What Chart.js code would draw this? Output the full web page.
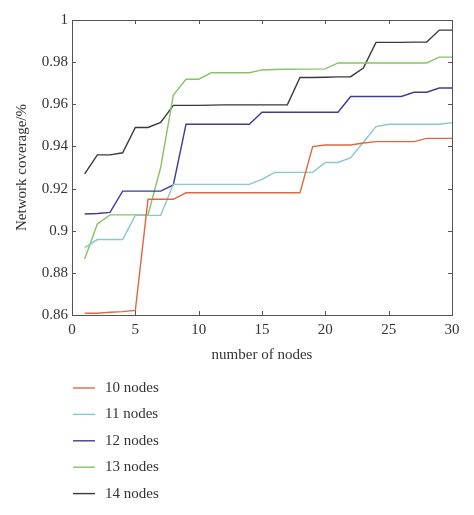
<!DOCTYPE html>
<html>
<head>
<meta charset="utf-8">
<script src="https://cdn.jsdelivr.net/npm/chart.js@4"></script>
<style>
  html, body { margin: 0; padding: 0; background: #fff; }
  #wrap { width: 474px; height: 515px; }
</style>
</head>
<body>
<div id="wrap"><canvas id="coverageChart" width="474" height="515"></canvas></div>
<script>
// number of nodes on the x axis
const nodeCounts = [1, 2, 3, 4, 5, 6, 7, 8, 9, 10, 11, 12, 13, 14, 15, 16, 17, 18, 19, 20, 21, 22, 23, 24, 25, 26, 27, 28, 29, 30];

// coverage values
const nodes10 = [0.8608, 0.8608, 0.8613, 0.8616, 0.8622, 0.9149, 0.9149, 0.9149, 0.918, 0.918, 0.918, 0.918, 0.918, 0.918, 0.918, 0.918, 0.918, 0.918, 0.9399, 0.9407, 0.9407, 0.9407, 0.9416, 0.9423, 0.9423, 0.9423, 0.9423, 0.9438, 0.9438, 0.9438];
const nodes11 = [0.892, 0.8958, 0.8958, 0.8958, 0.9073, 0.9073, 0.9073, 0.922, 0.922, 0.922, 0.922, 0.922, 0.922, 0.922, 0.9244, 0.9277, 0.9277, 0.9277, 0.9277, 0.9324, 0.9324, 0.9347, 0.942, 0.9494, 0.9505, 0.9505, 0.9505, 0.9505, 0.9505, 0.9513];
const nodes12 = [0.9079, 0.9082, 0.9087, 0.9188, 0.9188, 0.9188, 0.9188, 0.9217, 0.9505, 0.9505, 0.9505, 0.9505, 0.9505, 0.9505, 0.9562, 0.9562, 0.9562, 0.9562, 0.9562, 0.9562, 0.9562, 0.9637, 0.9637, 0.9637, 0.9637, 0.9637, 0.9657, 0.9657, 0.9677, 0.9677];
const nodes13 = [0.8866, 0.9032, 0.9075, 0.9075, 0.9075, 0.9075, 0.930, 0.9644, 0.9719, 0.9719, 0.975, 0.975, 0.975, 0.975, 0.9763, 0.9765, 0.9766, 0.9767, 0.9767, 0.9768, 0.9796, 0.9796, 0.9796, 0.9796, 0.9796, 0.9796, 0.9796, 0.9796, 0.9824, 0.9824];
const nodes14 = [0.927, 0.936, 0.936, 0.937, 0.949, 0.949, 0.9514, 0.9595, 0.9595, 0.9595, 0.9596, 0.9597, 0.9597, 0.9597, 0.9597, 0.9597, 0.9597, 0.9727, 0.9727, 0.9728, 0.973, 0.9731, 0.9772, 0.9894, 0.9894, 0.9894, 0.9895, 0.9895, 0.9952, 0.9952];

const seriesNames = ['10 nodes', '11 nodes', '12 nodes', '13 nodes', '14 nodes'];
const seriesColors = ['#e2673f', '#86c9c8', '#3d3d98', '#86c266', '#3a3a3a'];
const seriesValues = [nodes10, nodes11, nodes12, nodes13, nodes14];

const FONT = '"Liberation Serif", "DejaVu Serif", serif';
const INK = '#333333';

// build datasets from the arrays
const datasets = seriesValues.map((vals, i) => ({
    label: seriesNames[i],
    data: vals.map((v, j) => ({ x: nodeCounts[j], y: v })),
    borderColor: seriesColors[i],
    borderWidth: 1.4,
    pointRadius: 0,
    tension: 0,
    fill: false
}));

// box around plot, inward ticks on all four sides, and the stacked legend below
const frameAndLegend = {
    id: 'frameAndLegend',
    afterDraw(chart) {
        const ctx = chart.ctx;
        const a = chart.chartArea;
        const xs = chart.scales.x;
        const ys = chart.scales.y;
        const tick = 4;
        ctx.save();
        ctx.strokeStyle = '#555';
        ctx.lineWidth = 1;
        ctx.strokeRect(a.left + 0.5, a.top + 0.5, a.right - a.left, a.bottom - a.top);
        ctx.beginPath();
        xs.ticks.forEach(t => {
            const px = Math.round(xs.getPixelForValue(t.value)) + 0.5;
            ctx.moveTo(px, a.bottom); ctx.lineTo(px, a.bottom - tick);
            ctx.moveTo(px, a.top); ctx.lineTo(px, a.top + tick);
        });
        ys.ticks.forEach(t => {
            const py = Math.round(ys.getPixelForValue(t.value)) + 0.5;
            ctx.moveTo(a.left, py); ctx.lineTo(a.left + tick, py);
            ctx.moveTo(a.right, py); ctx.lineTo(a.right - tick, py);
        });
        ctx.stroke();

        // legend
        ctx.font = '15px ' + FONT;
        ctx.textBaseline = 'middle';
        ctx.textAlign = 'left';
        chart.data.datasets.forEach((ds, i) => {
            const y = 388 + i * 26.4;
            ctx.strokeStyle = ds.borderColor;
            ctx.lineWidth = 1.4;
            ctx.beginPath();
            ctx.moveTo(73, y);
            ctx.lineTo(95, y);
            ctx.stroke();
            ctx.fillStyle = INK;
            ctx.fillText(ds.label, 105, y);
        });
        ctx.restore();
    }
};

const coverageChart = new Chart(document.getElementById('coverageChart').getContext('2d'), {
    type: 'line',
    data: { datasets: datasets },
    options: {
        responsive: false,
        animation: false,
        layout: { padding: { top: 20, right: 22, bottom: 147, left: 0 } },
        plugins: {
            legend: { display: false },
            tooltip: { enabled: false }
        },
        scales: {
            x: {
                type: 'linear',
                min: 0,
                max: 30,
                afterFit(scale) { scale.height = 53; },
                ticks: { stepSize: 5, color: INK, padding: 6, font: { family: FONT, size: 15 } },
                grid: { display: false, drawTicks: false },
                border: { display: false },
                title: { display: true, text: 'number of nodes', color: INK, font: { family: FONT, size: 15 } }
            },
            y: {
                min: 0.86,
                max: 1,
                afterFit(scale) { scale.width = 72; },
                ticks: {
                    stepSize: 0.02,
                    color: INK,
                    padding: 4,
                    font: { family: FONT, size: 15 },
                    callback: v => String(Number(v.toFixed(2)))
                },
                grid: { display: false, drawTicks: false },
                border: { display: false },
                title: { display: true, text: 'Network coverage/%', color: INK, padding: { top: 13, bottom: 4 }, font: { family: FONT, size: 15 } }
            }
        }
    },
    plugins: [frameAndLegend]
});
</script>
</body>
</html>
